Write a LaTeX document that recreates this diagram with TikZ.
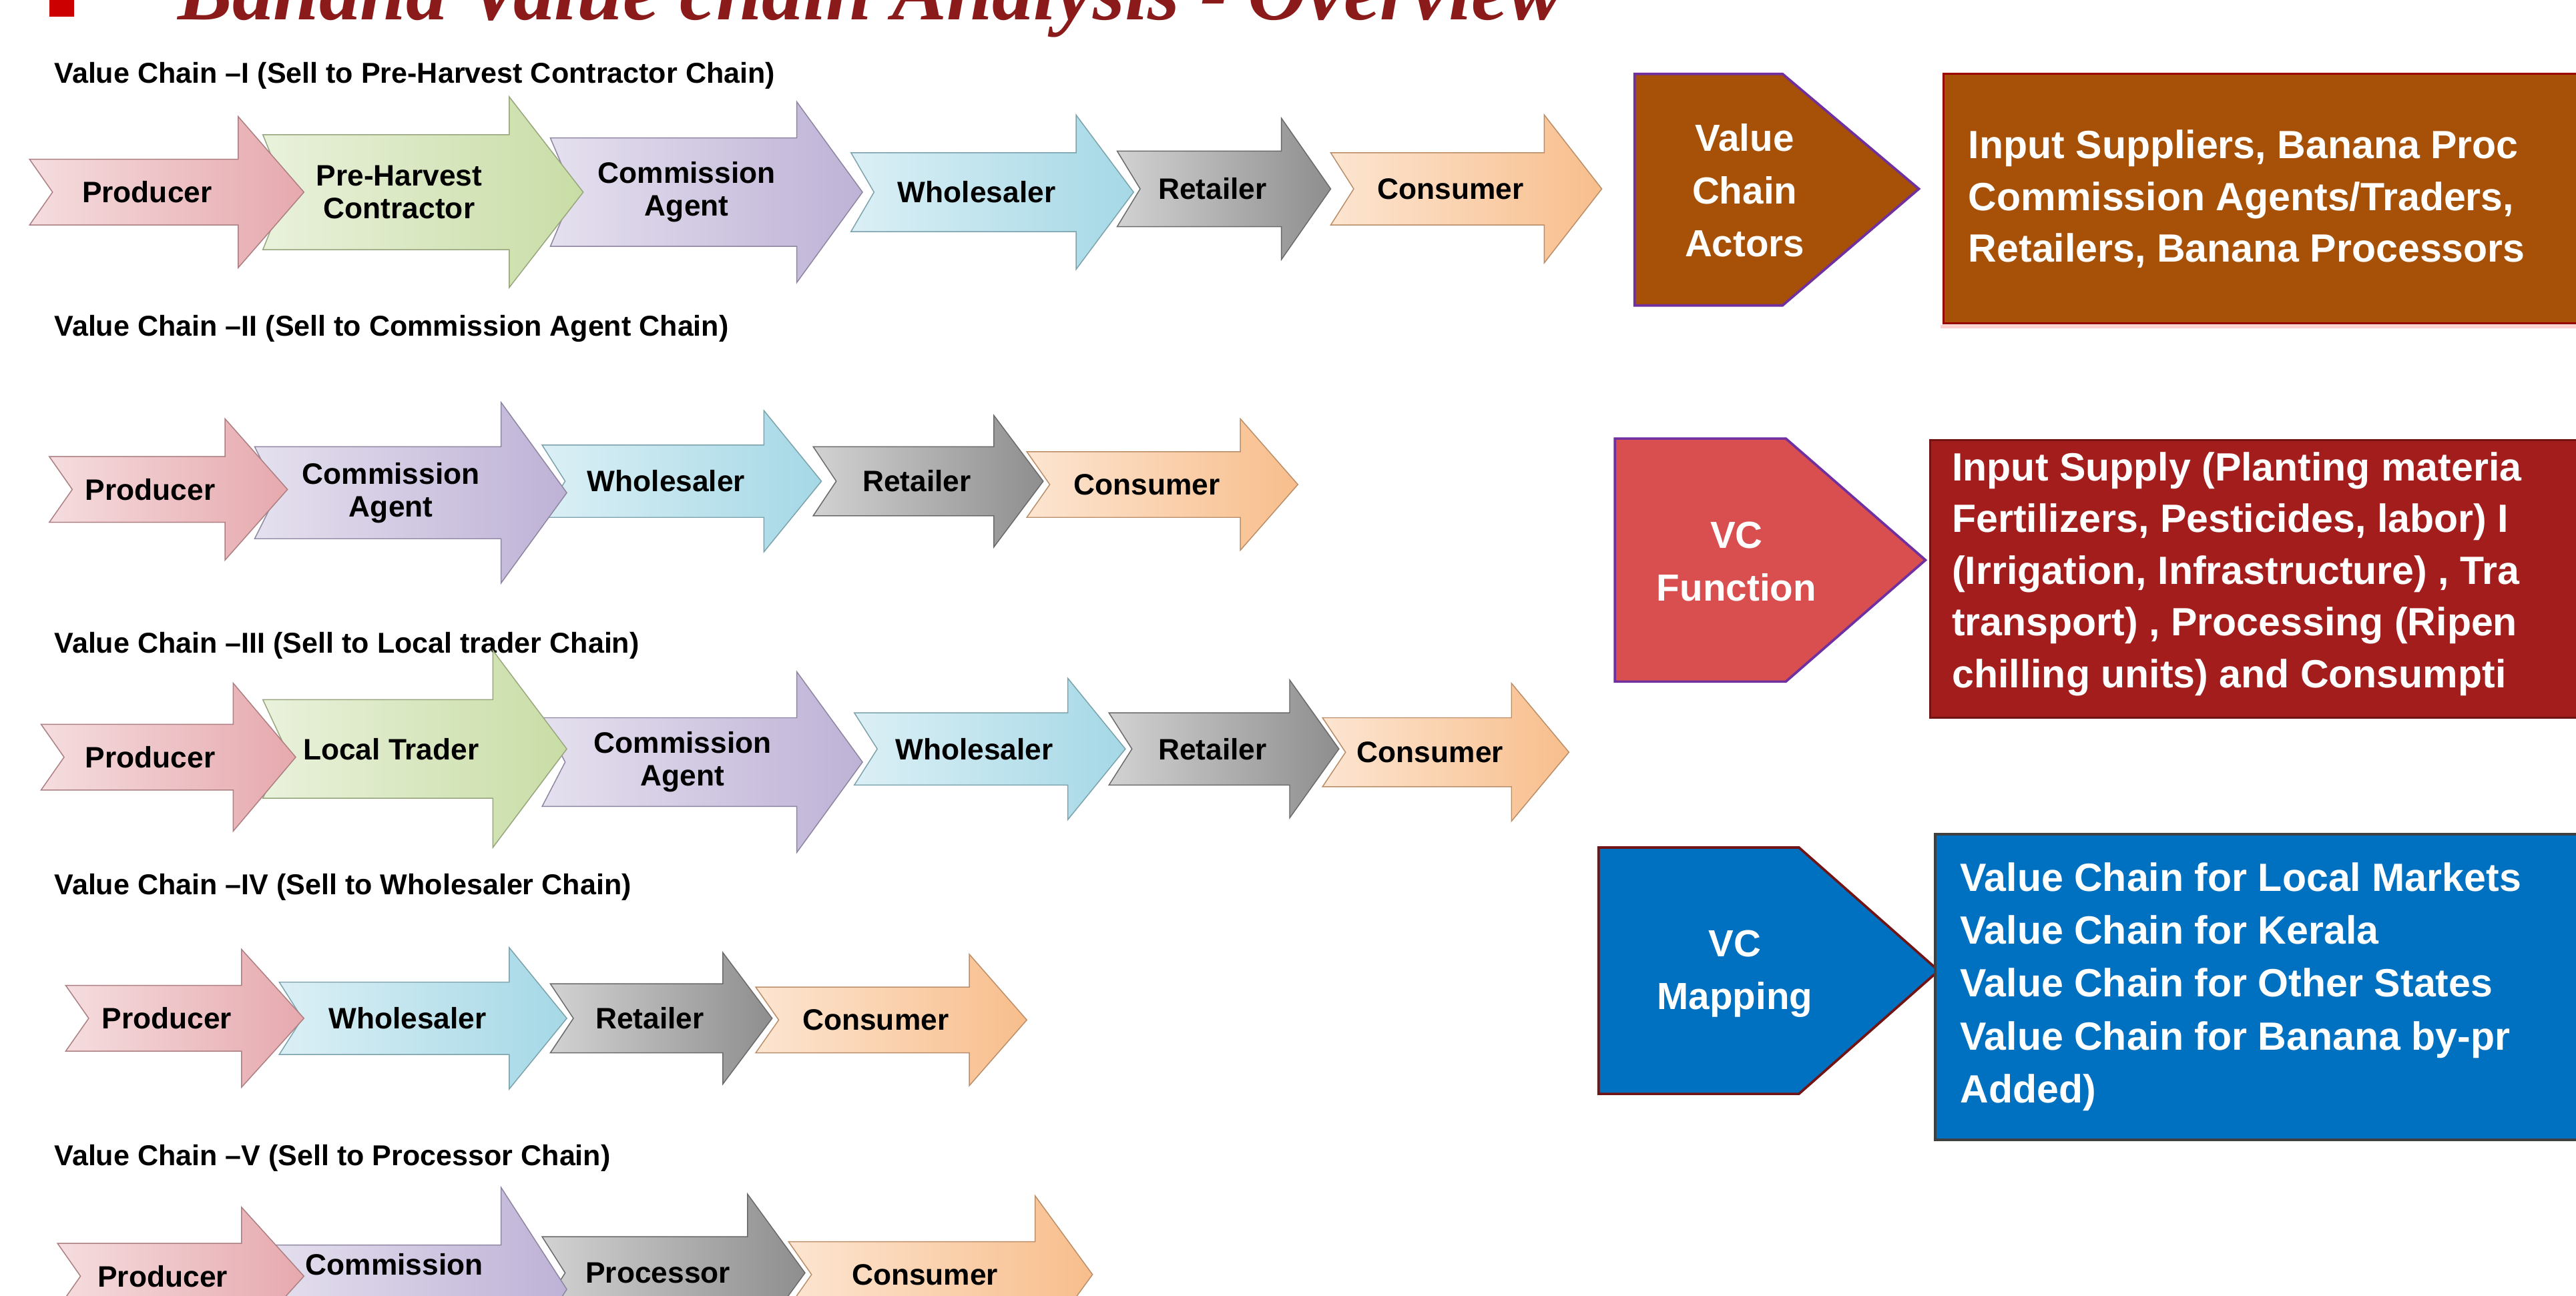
\documentclass[tikz,border=0pt]{standalone}
\usepackage{fontspec}
\setmainfont{Liberation Sans}
\newfontfamily\titlefont{Liberation Serif}
\begin{document}
\begin{tikzpicture}[x=1pt,y=-1pt,
 lab/.style={font=\fontsize{18}{20}\selectfont\bfseries,align=center,inner sep=0pt},
 chl/.style={font=\fontsize{17.5}{19}\selectfont\bfseries,anchor=west,inner sep=0pt},
 side/.style={font=\fontsize{23}{32}\selectfont\bfseries,text=white,align=center,inner sep=0pt},
 box/.style={font=\fontsize{24}{31.5}\selectfont\bfseries,text=white,align=left,anchor=north west,inner sep=0pt}]
\definecolor{cpink}{HTML}{E6A9AE}
\definecolor{cgreen}{HTML}{C9DDA6}
\definecolor{cpurple}{HTML}{BEB2D6}
\definecolor{cblue}{HTML}{A5D8E6}
\definecolor{cgray}{HTML}{8E8E8E}
\definecolor{cpeach}{HTML}{F8BE8C}
\definecolor{brown}{HTML}{A65008}
\definecolor{redf}{HTML}{D94F4F}
\definecolor{dred}{HTML}{A31D1D}
\definecolor{blu}{HTML}{0070C0}
\definecolor{purp}{HTML}{7030A0}
\definecolor{titlered}{HTML}{8B1A1A}
\newcommand\chv[9]{%
 \shade[left color=#8!40!white,right color=#8,draw=#8!75!black,line width=0.6pt]
 (#2,#4-#5) -- (#3-#7,#4-#5) -- (#3-#7,#4-#6) -- (#3,#4) -- (#3-#7,#4+#6) -- (#3-#7,#4+#5) -- (#2,#4+#5) -- (#2+14,#4) -- cycle;
 \node[lab] (#1) at ({(#2+#3-#7)/2+8},#4) {#9};}
\useasboundingbox (0,0) rectangle (1568,789);
\clip (0,0) rectangle (1568,789);
\fill[white] (0,0) rectangle (1568,789);
% title
\fill[red!80!black] (30,-10) rectangle (45,10);
\node[anchor=base west,inner sep=0pt,text=titlered,font=\titlefont\fontsize{50}{55}\selectfont\bfseries\itshape] (title) at (108,12) {Banana Value chain Analysis - Overview};
% chain labels
\node[chl] (l1) at (33,46) {Value Chain –I (Sell to Pre-Harvest Contractor Chain)};
\node[chl] (l2) at (33,200) {Value Chain –II (Sell to Commission Agent Chain)};
\node[chl] (l3) at (33,393) {Value Chain –III (Sell to Local trader Chain)};
\node[chl] (l4) at (33,540) {Value Chain –IV (Sell to Wholesaler Chain)};
\node[chl] (l5) at (33,705) {Value Chain –V (Sell to Processor Chain)};
% row 1
\chv{a16}{810}{975}{115}{22}{45}{35}{cpeach}{Consumer}
\chv{a15}{680}{810}{115}{23}{43}{30}{cgray}{Retailer}
\chv{a14}{518}{690}{117}{24}{47}{35}{cblue}{Wholesaler}
\chv{a13}{335}{525}{117}{33}{55}{40}{cpurple}{Commission\\Agent}
\chv{a12}{160}{355}{117}{35}{58}{45}{cgreen}{Pre-Harvest\\Contractor}
\chv{a11}{18}{185}{117}{20}{46}{40}{cpink}{Producer}
% row 2
\chv{a25}{625}{790}{295}{20}{40}{35}{cpeach}{Consumer}
\chv{a24}{495}{635}{293}{21}{40}{30}{cgray}{Retailer}
\chv{a23}{330}{500}{293}{22}{43}{35}{cblue}{Wholesaler}
\chv{a22}{155}{345}{300}{28}{55}{40}{cpurple}{Commission\\Agent}
\chv{a21}{30}{175}{298}{20}{43}{38}{cpink}{Producer}
% row 3
\chv{a36}{805}{955}{458}{21}{42}{35}{cpeach}{Consumer}
\chv{a35}{675}{815}{456}{22}{42}{30}{cgray}{Retailer}
\chv{a34}{520}{685}{456}{22}{43}{35}{cblue}{Wholesaler}
\chv{a33}{330}{525}{464}{27}{55}{40}{cpurple}{Commission\\Agent}
\chv{a32}{160}{345}{456}{30}{60}{45}{cgreen}{Local Trader}
\chv{a31}{25}{180}{461}{20}{45}{38}{cpink}{Producer}
% row 4
\chv{a44}{460}{625}{621}{20}{40}{35}{cpeach}{Consumer}
\chv{a43}{335}{470}{620}{21}{40}{30}{cgray}{Retailer}
\chv{a42}{170}{345}{620}{22}{43}{35}{cblue}{Wholesaler}
\chv{a41}{40}{185}{620}{20}{42}{38}{cpink}{Producer}
% row 5
\chv{a54}{480}{665}{776}{20}{48}{35}{cpeach}{Consumer}
\chv{a53}{330}{490}{775}{22}{48}{35}{cgray}{Processor}
\shade[left color=cpurple!40!white,right color=cpurple,draw=cpurple!75!black,line width=0.6pt]
 (160,758) -- (305,758) -- (305,723) -- (345,785) -- (305,847) -- (305,812) -- (160,812) -- (174,785) -- cycle;
\node[lab] (a52) at (240,770) {Commission};
\chv{a51}{35}{185}{777}{20}{42}{38}{cpink}{Producer}
% right side
\filldraw[fill=brown,draw=purp,line width=1.5pt] (995,45) -- (1085,45) -- (1168,115) -- (1085,186) -- (995,186) -- cycle;
\node[side] (s1) at (1062,116) {Value\\Chain\\Actors};
\filldraw[fill=brown,draw=red!60!black,line width=1.2pt] (1183,45) rectangle (1600,197);
\draw[red!30,line width=2pt,opacity=0.6] (1181,199) -- (1600,199);
\node[box] (b1) at (1198,79) {Input Suppliers, Banana Proc\\Commission Agents/Traders,\\Retailers, Banana Processors};
\filldraw[fill=redf,draw=purp,line width=1.5pt] (983,267) -- (1087,267) -- (1172,341) -- (1087,415) -- (983,415) -- cycle;
\node[side] (s2) at (1057,342) {VC\\Function};
\filldraw[fill=dred,draw=dred!70!black,line width=1.2pt] (1175,268) rectangle (1600,437);
\node[box] (b2) at (1188,275) {Input Supply (Planting materia\\Fertilizers, Pesticides, labor) I\\(Irrigation, Infrastructure) , Tra\\transport) , Processing (Ripen\\chilling units) and Consumpti};
\filldraw[fill=blu,draw=dred!70!black,line width=1.5pt] (973,516) -- (1095,516) -- (1180,591) -- (1095,666) -- (973,666) -- cycle;
\node[side] (s3) at (1056,593) {VC\\Mapping};
\filldraw[fill=blu,draw=black!75,line width=1.5pt] (1178,508) rectangle (1600,694);
\node[box,font=\fontsize{24}{32.2}\selectfont\bfseries] (b3) at (1193,525) {Value Chain for Local Markets\\Value Chain for Kerala\\Value Chain for Other States\\Value Chain for Banana by-pr\\Added)};
\end{tikzpicture}
\end{document}
